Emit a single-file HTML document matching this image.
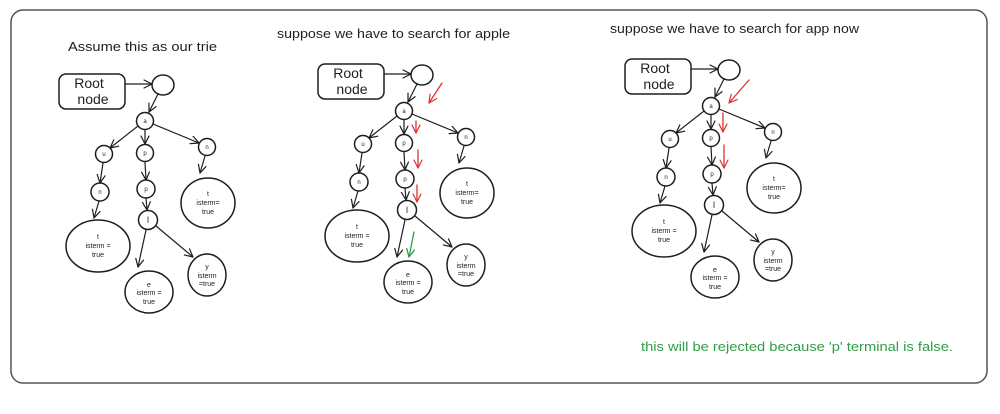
<!DOCTYPE html>
<html>
<head>
<meta charset="utf-8">
<style>
  html, body { margin:0; padding:0; background:#ffffff; }
  body { width:1000px; height:414px; overflow:hidden; }
  svg { display:block; }
  text { font-family: "Liberation Sans", sans-serif; fill:#1e1e1e; }
</style>
</head>
<body>
<svg width="1000" height="414" viewBox="0 0 1000 414" xmlns="http://www.w3.org/2000/svg">
  <defs>
    <marker id="ah" markerWidth="12" markerHeight="12" refX="8.5" refY="4.5" orient="auto" markerUnits="userSpaceOnUse">
      <path d="M0.5,0.5 L8.5,4.5 L0.5,8.5" fill="none" stroke="#1e1e1e" stroke-width="1.2" stroke-linecap="round" stroke-linejoin="round"/>
    </marker>
    <marker id="ahr" markerWidth="12" markerHeight="12" refX="8.5" refY="4.5" orient="auto" markerUnits="userSpaceOnUse">
      <path d="M0.5,0.5 L8.5,4.5 L0.5,8.5" fill="none" stroke="#e03131" stroke-width="1.2" stroke-linecap="round" stroke-linejoin="round"/>
    </marker>
    <marker id="ahg" markerWidth="12" markerHeight="12" refX="8.5" refY="4.5" orient="auto" markerUnits="userSpaceOnUse">
      <path d="M0.5,0.5 L8.5,4.5 L0.5,8.5" fill="none" stroke="#2f9e44" stroke-width="1.3" stroke-linecap="round" stroke-linejoin="round"/>
    </marker>
  </defs>

  <!-- outer frame -->
  <rect x="11" y="10" width="976" height="373" rx="12" ry="12" fill="#ffffff" stroke="#555555" stroke-width="1.5"/>

  <!-- titles -->
  <text x="68" y="51" font-size="13" textLength="149" lengthAdjust="spacingAndGlyphs">Assume this as our trie</text>
  <text x="277" y="38" font-size="13" textLength="233" lengthAdjust="spacingAndGlyphs">suppose we have to search for apple</text>
  <text x="610" y="33" font-size="13" textLength="249" lengthAdjust="spacingAndGlyphs">suppose we have to search for app now</text>

  <!-- ============ TREE 1 ============ -->
  <g fill="none" stroke="#1e1e1e" stroke-width="1.5">
    <rect x="59" y="74" width="66" height="35" rx="7" ry="7"/>
    <ellipse cx="163" cy="85" rx="11" ry="10"/>
    <circle cx="145" cy="121" r="8.5"/>
    <circle cx="104" cy="154" r="8.5"/>
    <circle cx="145" cy="153" r="8.5"/>
    <circle cx="207" cy="147" r="8.5"/>
    <circle cx="100" cy="192" r="9"/>
    <circle cx="146" cy="189" r="9"/>
    <circle cx="148" cy="220" r="9.5"/>
    <ellipse cx="208" cy="203" rx="27" ry="25"/>
    <ellipse cx="98" cy="246" rx="32" ry="26"/>
    <ellipse cx="149" cy="292" rx="24" ry="21"/>
    <ellipse cx="207" cy="275" rx="19" ry="21"/>
  </g>
  <g fill="none" stroke="#1e1e1e" stroke-width="1.2" stroke-linecap="round">
    <line x1="126" y1="84" x2="152" y2="84" marker-end="url(#ah)"/>
    <line x1="158" y1="94" x2="149" y2="112" marker-end="url(#ah)"/>
    <line x1="138" y1="126" x2="110" y2="148" marker-end="url(#ah)"/>
    <line x1="145" y1="130" x2="145" y2="144" marker-end="url(#ah)"/>
    <line x1="153" y1="124" x2="199" y2="143" marker-end="url(#ah)"/>
    <line x1="103" y1="163" x2="100" y2="183" marker-end="url(#ah)"/>
    <line x1="145" y1="162" x2="146" y2="180" marker-end="url(#ah)"/>
    <line x1="146" y1="198" x2="147" y2="210" marker-end="url(#ah)"/>
    <line x1="205" y1="156" x2="200" y2="173" marker-end="url(#ah)"/>
    <line x1="99" y1="201" x2="94" y2="218" marker-end="url(#ah)"/>
    <line x1="146" y1="230" x2="138" y2="267" marker-end="url(#ah)"/>
    <line x1="156" y1="226" x2="193" y2="257" marker-end="url(#ah)"/>
  </g>
  <g text-anchor="middle">
    <text x="89" y="88" font-size="14" text-anchor="middle">Root</text>
    <text x="93" y="104" font-size="14" text-anchor="middle">node</text>
    <text x="145" y="123" font-size="6">a</text>
    <text x="104" y="156" font-size="6">u</text>
    <text x="145" y="155" font-size="6">p</text>
    <text x="207" y="149" font-size="6">n</text>
    <text x="100" y="194" font-size="6">n</text>
    <text x="146" y="191" font-size="6">p</text>
    <text x="148" y="223" font-size="9">l</text>
    <text x="208" y="196" font-size="7">t</text>
    <text x="208" y="205" font-size="7">isterm=</text>
    <text x="208" y="214" font-size="7">true</text>
    <text x="98" y="239" font-size="7">t</text>
    <text x="98" y="248" font-size="7">isterm =</text>
    <text x="98" y="257" font-size="7">true</text>
    <text x="149" y="287" font-size="7">e</text>
    <text x="149" y="295" font-size="7">isterm =</text>
    <text x="149" y="304" font-size="7">true</text>
    <text x="207" y="269" font-size="7">y</text>
    <text x="207" y="278" font-size="7">isterm</text>
    <text x="207" y="286" font-size="7">=true</text>
  </g>

  <!-- ============ TREE 2 ============ -->
  <g transform="translate(259,-10)">
    <g fill="none" stroke="#1e1e1e" stroke-width="1.5">
      <rect x="59" y="74" width="66" height="35" rx="7" ry="7"/>
      <ellipse cx="163" cy="85" rx="11" ry="10"/>
      <circle cx="145" cy="121" r="8.5"/>
      <circle cx="104" cy="154" r="8.5"/>
      <circle cx="145" cy="153" r="8.5"/>
      <circle cx="207" cy="147" r="8.5"/>
      <circle cx="100" cy="192" r="9"/>
      <circle cx="146" cy="189" r="9"/>
      <circle cx="148" cy="220" r="9.5"/>
      <ellipse cx="208" cy="203" rx="27" ry="25"/>
      <ellipse cx="98" cy="246" rx="32" ry="26"/>
      <ellipse cx="149" cy="292" rx="24" ry="21"/>
      <ellipse cx="207" cy="275" rx="19" ry="21"/>
    </g>
    <g fill="none" stroke="#1e1e1e" stroke-width="1.2" stroke-linecap="round">
      <line x1="126" y1="84" x2="152" y2="84" marker-end="url(#ah)"/>
      <line x1="158" y1="94" x2="149" y2="112" marker-end="url(#ah)"/>
      <line x1="138" y1="126" x2="110" y2="148" marker-end="url(#ah)"/>
      <line x1="145" y1="130" x2="145" y2="144" marker-end="url(#ah)"/>
      <line x1="153" y1="124" x2="199" y2="143" marker-end="url(#ah)"/>
      <line x1="103" y1="163" x2="100" y2="183" marker-end="url(#ah)"/>
      <line x1="145" y1="162" x2="146" y2="180" marker-end="url(#ah)"/>
      <line x1="146" y1="198" x2="147" y2="210" marker-end="url(#ah)"/>
      <line x1="205" y1="156" x2="200" y2="173" marker-end="url(#ah)"/>
      <line x1="99" y1="201" x2="94" y2="218" marker-end="url(#ah)"/>
      <line x1="146" y1="230" x2="138" y2="267" marker-end="url(#ah)"/>
      <line x1="156" y1="226" x2="193" y2="257" marker-end="url(#ah)"/>
    </g>
    <g text-anchor="middle">
      <text x="89" y="88" font-size="14" text-anchor="middle">Root</text>
      <text x="93" y="104" font-size="14" text-anchor="middle">node</text>
      <text x="145" y="123" font-size="6">a</text>
      <text x="104" y="156" font-size="6">u</text>
      <text x="145" y="155" font-size="6">p</text>
      <text x="207" y="149" font-size="6">n</text>
      <text x="100" y="194" font-size="6">n</text>
      <text x="146" y="191" font-size="6">p</text>
      <text x="148" y="223" font-size="9">l</text>
      <text x="208" y="196" font-size="7">t</text>
      <text x="208" y="205" font-size="7">isterm=</text>
      <text x="208" y="214" font-size="7">true</text>
      <text x="98" y="239" font-size="7">t</text>
      <text x="98" y="248" font-size="7">isterm =</text>
      <text x="98" y="257" font-size="7">true</text>
      <text x="149" y="287" font-size="7">e</text>
      <text x="149" y="295" font-size="7">isterm =</text>
      <text x="149" y="304" font-size="7">true</text>
      <text x="207" y="269" font-size="7">y</text>
      <text x="207" y="278" font-size="7">isterm</text>
      <text x="207" y="286" font-size="7">=true</text>
    </g>
  </g>
  <!-- tree 2 search arrows -->
  <g fill="none" stroke-width="1.3" stroke-linecap="round">
    <line x1="442" y1="83" x2="429" y2="103" stroke="#e03131" marker-end="url(#ahr)"/>
    <line x1="416" y1="121" x2="416" y2="133" stroke="#e03131" marker-end="url(#ahr)"/>
    <line x1="418" y1="150" x2="418" y2="168" stroke="#e03131" marker-end="url(#ahr)"/>
    <line x1="417" y1="185" x2="417" y2="202" stroke="#e03131" marker-end="url(#ahr)"/>
    <line x1="414" y1="232" x2="409" y2="257" stroke="#2f9e44" marker-end="url(#ahg)"/>
  </g>

  <!-- ============ TREE 3 ============ -->
  <g transform="translate(566,-15)">
    <g fill="none" stroke="#1e1e1e" stroke-width="1.5">
      <rect x="59" y="74" width="66" height="35" rx="7" ry="7"/>
      <ellipse cx="163" cy="85" rx="11" ry="10"/>
      <circle cx="145" cy="121" r="8.5"/>
      <circle cx="104" cy="154" r="8.5"/>
      <circle cx="145" cy="153" r="8.5"/>
      <circle cx="207" cy="147" r="8.5"/>
      <circle cx="100" cy="192" r="9"/>
      <circle cx="146" cy="189" r="9"/>
      <circle cx="148" cy="220" r="9.5"/>
      <ellipse cx="208" cy="203" rx="27" ry="25"/>
      <ellipse cx="98" cy="246" rx="32" ry="26"/>
      <ellipse cx="149" cy="292" rx="24" ry="21"/>
      <ellipse cx="207" cy="275" rx="19" ry="21"/>
    </g>
    <g fill="none" stroke="#1e1e1e" stroke-width="1.2" stroke-linecap="round">
      <line x1="126" y1="84" x2="152" y2="84" marker-end="url(#ah)"/>
      <line x1="158" y1="94" x2="149" y2="112" marker-end="url(#ah)"/>
      <line x1="138" y1="126" x2="110" y2="148" marker-end="url(#ah)"/>
      <line x1="145" y1="130" x2="145" y2="144" marker-end="url(#ah)"/>
      <line x1="153" y1="124" x2="199" y2="143" marker-end="url(#ah)"/>
      <line x1="103" y1="163" x2="100" y2="183" marker-end="url(#ah)"/>
      <line x1="145" y1="162" x2="146" y2="180" marker-end="url(#ah)"/>
      <line x1="146" y1="198" x2="147" y2="210" marker-end="url(#ah)"/>
      <line x1="205" y1="156" x2="200" y2="173" marker-end="url(#ah)"/>
      <line x1="99" y1="201" x2="94" y2="218" marker-end="url(#ah)"/>
      <line x1="146" y1="230" x2="138" y2="267" marker-end="url(#ah)"/>
      <line x1="156" y1="226" x2="193" y2="257" marker-end="url(#ah)"/>
    </g>
    <g text-anchor="middle">
      <text x="89" y="88" font-size="14" text-anchor="middle">Root</text>
      <text x="93" y="104" font-size="14" text-anchor="middle">node</text>
      <text x="145" y="123" font-size="6">a</text>
      <text x="104" y="156" font-size="6">u</text>
      <text x="145" y="155" font-size="6">p</text>
      <text x="207" y="149" font-size="6">n</text>
      <text x="100" y="194" font-size="6">n</text>
      <text x="146" y="191" font-size="6">p</text>
      <text x="148" y="223" font-size="9">l</text>
      <text x="208" y="196" font-size="7">t</text>
      <text x="208" y="205" font-size="7">isterm=</text>
      <text x="208" y="214" font-size="7">true</text>
      <text x="98" y="239" font-size="7">t</text>
      <text x="98" y="248" font-size="7">isterm =</text>
      <text x="98" y="257" font-size="7">true</text>
      <text x="149" y="287" font-size="7">e</text>
      <text x="149" y="295" font-size="7">isterm =</text>
      <text x="149" y="304" font-size="7">true</text>
      <text x="207" y="269" font-size="7">y</text>
      <text x="207" y="278" font-size="7">isterm</text>
      <text x="207" y="286" font-size="7">=true</text>
    </g>
  </g>
  <!-- tree 3 search arrows -->
  <g fill="none" stroke="#e03131" stroke-width="1.3" stroke-linecap="round">
    <line x1="749" y1="80" x2="729" y2="103" marker-end="url(#ahr)"/>
    <line x1="723" y1="113" x2="723" y2="132" marker-end="url(#ahr)"/>
    <line x1="724" y1="145" x2="724" y2="168" marker-end="url(#ahr)"/>
  </g>

  <!-- conclusion -->
  <text x="641" y="351" font-size="13" textLength="312" lengthAdjust="spacingAndGlyphs" style="fill:#2f9e44">this will be rejected because 'p' terminal is false.</text>
</svg>
</body>
</html>
